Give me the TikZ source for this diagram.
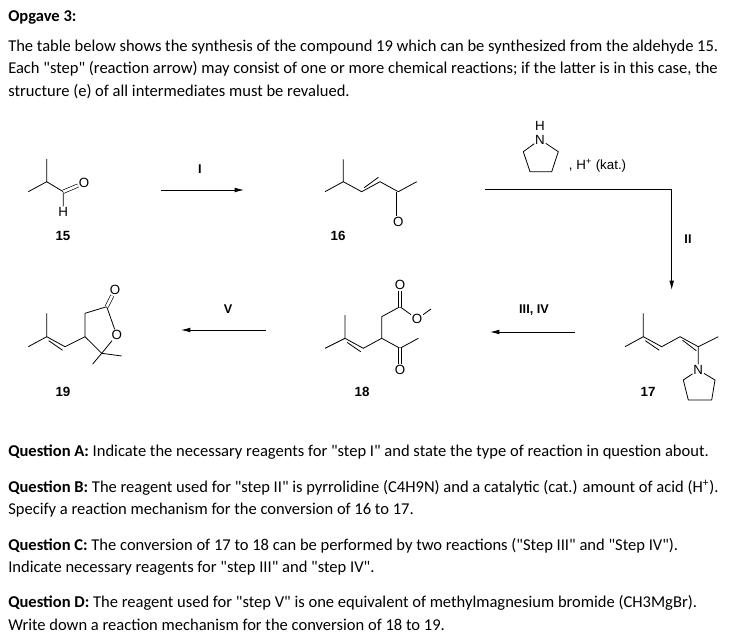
\documentclass[tikz,border=0pt]{standalone}
\usepackage{fontspec}
\setmainfont{Carlito}[Ligatures=TeXOff]
\newfontfamily\chemfont{Liberation Sans}
\usetikzlibrary{arrows.meta,calc}
\tikzset{
  bond/.style={line width=0.6pt},
  dbl/.style={line width=0.5pt, double, double distance=2pt},
  atom/.style={font=\chemfont\fontsize{10}{11}\selectfont, inner sep=0.5pt},
  lbl/.style={font=\chemfont\bfseries\fontsize{10}{11}\selectfont, inner sep=0pt},
  rlbl/.style={font=\chemfont\bfseries\fontsize{9.5}{11}\selectfont, inner sep=0pt},
  txt/.style={anchor=west, inner sep=0pt, font=\fontsize{12.4}{14}\selectfont},
  rarrow/.style={line width=0.6pt, -{Latex[length=7pt,width=3.5pt]}}
}
\begin{document}
\begin{tikzpicture}[x=0.75pt,y=-0.75pt]
\useasboundingbox (0,0) rectangle (731,639);
% ---------- texts
\node[txt] (t0) at (8,17) {\textbf{Opgave 3:}};
\node[txt] (t1) at (8,47) {The table below shows the synthesis of the compound 19 which can be synthesized from the aldehyde 15.};
\node[txt] (t2) at (8,69) {Each "step" (reaction arrow) may consist of one or more chemical reactions; if the latter is in this case, the};
\node[txt] (t3) at (8,92) {structure (e) of all intermediates must be revalued.};
\node[txt] (qa) at (8,452) {\textbf{Question A:} Indicate the necessary reagents for "step I" and state the type of reaction in question about.};
\node[txt] (qb1) at (8,488) {\textbf{Question B:} The reagent used for "step II" is pyrrolidine (C4H9N) and a catalytic (cat.) amount of acid (H\textsuperscript{+}).};
\node[txt] (qb2) at (8,510) {Specify a reaction mechanism for the conversion of 16 to 17.};
\node[txt] (qc1) at (8,546) {\textbf{Question C:} The conversion of 17 to 18 can be performed by two reactions ("Step III" and "Step IV").};
\node[txt] (qc2) at (8,568) {Indicate necessary reagents for "step III" and "step IV".};
\node[txt] (qd1) at (8,603) {\textbf{Question D:} The reagent used for "step V" is one equivalent of methylmagnesium bromide (CH3MgBr).};
\node[txt] (qd2) at (8,625) {Write down a reaction mechanism for the conversion of 18 to 19.};

% ---------- 15
\coordinate (a1) at (46.7,159);
\coordinate (a2) at (46.7,181.7);
\coordinate (a3) at (28.3,191.7);
\coordinate (a4) at (63.3,191.7);
\node[atom] (aO) at (84,183) {O};
\node[atom] (aH) at (63.3,212) {H};
\draw[bond] (a1) -- (a2) -- (a3) (a2) -- (a4) -- (aH);
\draw[dbl] (a4) -- (aO);
\node[lbl] (l15) at (63,236) {15};

% arrow I
\coordinate (i1) at (161,190);
\coordinate (i2) at (244,190);
\draw[rarrow] (i1) -- (i2);
\node[rlbl] (lI) at (200,169) {I};

% ---------- 16
\coordinate (b1) at (325,191.7);
\coordinate (b2) at (343.3,181.7);
\coordinate (b3) at (343.3,159.3);
\coordinate (b4) at (361.7,191.7);
\coordinate (b5) at (380,181.7);
\coordinate (b6) at (398.3,191.7);
\coordinate (b7) at (416.7,181.7);
\node[atom] (bO) at (398.3,222) {O};
\draw[bond] (b1) -- (b2) -- (b3) (b2) -- (b4) -- (b5) -- (b6) -- (b7);
\draw[bond] ($(b4)+(2.5,-4)$) -- ($(b5)+(-1.5,-4.5)$);
\draw[dbl] (b6) -- (bO);
\node[lbl] (l16) at (338,236) {16};

% step II arrow + reagents
\coordinate (s1) at (485,189.3);
\coordinate (s2) at (671.7,189.3);
\coordinate (s3) at (671.7,290);
\draw[rarrow] (s1) -- (s2) -- (s3);
\node[rlbl] (lII) at (688,239) {II};
\node[atom] (pN) at (540,139.5) {N};
\node[atom] (pH) at (540,126) {H};
\coordinate (p1) at (558.3,151.7);
\coordinate (p2) at (551.7,171.7);
\coordinate (p3) at (530,171.7);
\coordinate (p4) at (523.3,151.7);
\draw[bond] (pN) -- (p1) -- (p2) -- (p3) -- (p4) -- (pN);
\node[atom, anchor=west] (pr) at (568,166) {, H\textsuperscript{+} (kat.)};

% ---------- 17
\coordinate (c1) at (625,346.7);
\coordinate (c2) at (643.3,336.7);
\coordinate (c3) at (643.3,313.3);
\coordinate (c4) at (661.7,346.7);
\coordinate (c5) at (680,336.7);
\coordinate (c6) at (698.3,346.7);
\coordinate (c7) at (718.3,336.7);
\node[atom] (cN) at (698.3,370) {N};
\coordinate (r1) at (715,380);
\coordinate (r2) at (711.7,400);
\coordinate (r3) at (688.3,400);
\coordinate (r4) at (683.3,380);
\draw[bond] (c1) -- (c2) -- (c3) (c2) -- (c4) -- (c5) -- (c6) -- (c7) (c6) -- (cN);
\draw[bond] ($(c2)+(2,4)$) -- ($(c4)+(-2.5,3.5)$);
\draw[bond] ($(c5)+(2.5,3.5)$) -- ($(c6)+(-2,4)$);
\draw[bond] (cN) -- (r1) -- (r2) -- (r3) -- (r4) -- (cN);
\node[lbl] (l17) at (648,392) {17};

% arrow III, IV
\coordinate (j1) at (575,332);
\coordinate (j2) at (490,332);
\draw[rarrow] (j1) -- (j2);
\node[rlbl] (lIII) at (534,310) {III, IV};

% ---------- 18
\coordinate (d1) at (325,348.3);
\coordinate (d2) at (345,338.3);
\coordinate (d3) at (345,315);
\coordinate (d4) at (363.3,348.3);
\coordinate (d5) at (381.7,338.3);
\coordinate (d6) at (381.7,316.7);
\coordinate (d7) at (400,306.7);
\node[atom] (dO1) at (400,285) {O};
\node[atom] (dO2) at (417,319) {O};
\coordinate (d8) at (431,309);
\coordinate (d9) at (400,348.3);
\coordinate (d10) at (418.3,338.3);
\node[atom] (dO3) at (400,370) {O};
\draw[bond] (d1) -- (d2) -- (d3) (d2) -- (d4) -- (d5) -- (d6) -- (d7) -- (dO2) -- (d8);
\draw[bond] ($(d2)+(2,4)$) -- ($(d4)+(-2.5,3.5)$);
\draw[bond] (d5) -- (d9) -- (d10);
\draw[dbl] (d7) -- (dO1);
\draw[dbl] (d9) -- (dO3);
\node[lbl] (l18) at (362,392) {18};

% arrow V
\coordinate (k1) at (266,330);
\coordinate (k2) at (181,330);
\draw[rarrow] (k1) -- (k2);
\node[rlbl] (lV) at (228,309) {V};

% ---------- 19
\coordinate (e1) at (28.3,346.7);
\coordinate (e2) at (46.7,336.7);
\coordinate (e3) at (46.7,313.3);
\coordinate (e4) at (65,346.7);
\coordinate (e5) at (85,336.7);
\coordinate (e6) at (85,313.3);
\coordinate (e7) at (106.7,306.7);
\node[atom] (eO1) at (115,290) {O};
\node[atom] (eO2) at (116.7,335) {O};
\coordinate (e8) at (101.7,353.3);
\coordinate (e9) at (92.7,364);
\coordinate (e10) at (121.7,356);
\draw[bond] (e1) -- (e2) -- (e3) (e2) -- (e4) -- (e5) -- (e6) -- (e7) -- (eO2) -- (e8) -- (e5);
\draw[bond] (e8) -- (e9) (e8) -- (e10);
\draw[bond] ($(e2)+(2,4)$) -- ($(e4)+(-2.5,3.5)$);
\draw[dbl] (e7) -- (eO1);
\node[lbl] (l19) at (63,392) {19};
\end{tikzpicture}
\end{document}
